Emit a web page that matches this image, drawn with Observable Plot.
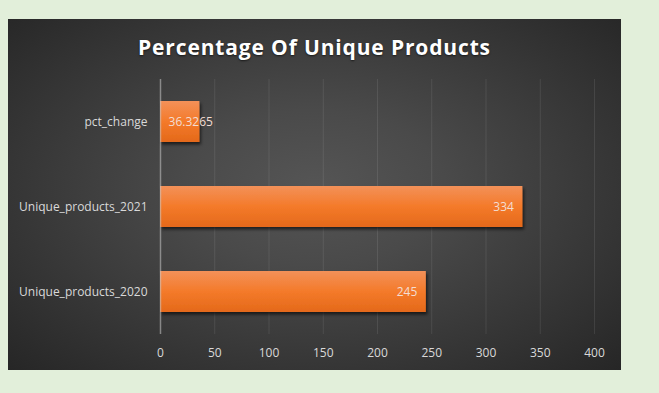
<!DOCTYPE html>
<html>
<head>
<meta charset="utf-8">
<script src="https://cdn.jsdelivr.net/npm/d3@7"></script>
<script src="https://cdn.jsdelivr.net/npm/@observablehq/plot@0.6"></script>
<style>
  html, body { margin: 0; padding: 0; }
  body { width: 659px; height: 393px; background: #e2efda; position: relative; overflow: hidden; }
  #panel {
    position: absolute; left: 8px; top: 19px; width: 613px; height: 351px;
    background: radial-gradient(ellipse farthest-corner at 50% 48%, #555555 0%, #4a4a4a 30%, #262626 100%);
  }
  #title {
    height: 50px; width: 613px; text-align: center;
    font-family: "Open Sans", sans-serif; font-weight: bold; font-size: 21px;
    letter-spacing: 0.85px; color: #ffffff; line-height: 50px;
    text-shadow: 0 1px 2px rgba(0,0,0,0.6);
    box-sizing: border-box; padding-top: 3px;
  }
  #chart svg { display: block; }
</style>
</head>
<body>
<div id="panel">
  <div id="title">Percentage Of Unique Products</div>
  <div id="chart"></div>
</div>
<script>
const categories = ["pct_change", "Unique_products_2021", "Unique_products_2020"];
const values = [36.3265, 334, 245];
const labels = ["36.3265", "334", "245"];
const xTicks = [0, 50, 100, 150, 200, 250, 300, 350, 400];

const data = categories.map((c, i) => ({category: c, value: values[i], label: labels[i]}));
const gridTicks = xTicks.filter(t => t !== 0);

const textColor = "#d9d9d9";
const plot = Plot.plot({
  width: 613,
  height: 301,
  marginTop: 10,
  marginBottom: 36,
  marginLeft: 152,
  marginRight: 27,
  style: {background: "transparent", fontFamily: "Open Sans, sans-serif", fontSize: "12px", color: textColor, overflow: "visible"},
  x: {domain: [0, 400], ticks: xTicks, tickSize: 0, tickPadding: 14, label: null},
  y: {domain: categories, paddingInner: 0.52, paddingOuter: 0.26, tickSize: 0, tickPadding: 13, label: null},
  marks: [
    Plot.ruleX(gridTicks, {stroke: "#ffffff", strokeOpacity: 0.09, strokeWidth: 1}),
    Plot.barX(data, {y: "category", x: "value", fill: "url(#barGrad)", className: "bars"}),
    Plot.ruleX([0], {stroke: "#c8c8c8", strokeOpacity: 0.55, strokeWidth: 1.5}),
    Plot.text(data.filter(d => d.value > 100), {y: "category", x: "value", text: "label", textAnchor: "end", dx: -9, fill: "#f3ddd2", fontSize: 12}),
    Plot.text(data.filter(d => d.value <= 100), {y: "category", x: "value", text: "label", textAnchor: "end", dx: 13, fill: "#f3ddd2", fontSize: 12})
  ]
});

const svg = d3.select(plot);
const defs = svg.insert("defs", ":first-child");
const grad = defs.append("linearGradient").attr("id", "barGrad").attr("x1", 0).attr("y1", 0).attr("x2", 0).attr("y2", 1);
grad.append("stop").attr("offset", "0%").attr("stop-color", "#f39159");
grad.append("stop").attr("offset", "50%").attr("stop-color", "#f47a2a");
grad.append("stop").attr("offset", "100%").attr("stop-color", "#e4691a");
const f = defs.append("filter").attr("id", "barShadow").attr("x", "-10%").attr("y", "-20%").attr("width", "130%").attr("height", "160%");
f.append("feDropShadow").attr("dx", 1.5).attr("dy", 2.5).attr("stdDeviation", 1.5).attr("flood-color", "#000").attr("flood-opacity", 0.6);
svg.selectAll("g.bars, g[aria-label='bar']").attr("filter", "url(#barShadow)");
svg.selectAll("g[aria-label='x-axis tick label'] text, g[aria-label='y-axis tick label'] text").attr("fill", textColor);

document.getElementById("chart").appendChild(plot);
</script>
</body>
</html>
